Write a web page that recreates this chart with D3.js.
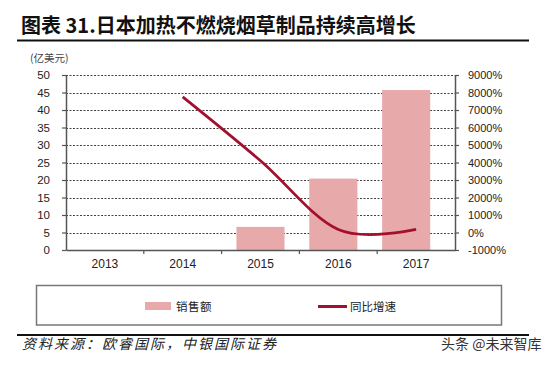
<!DOCTYPE html>
<html>
<head>
<meta charset="utf-8">
<script src="https://cdn.jsdelivr.net/npm/d3@7"></script>
<style>
  body { margin: 0; background: #fff; }
  svg { display: block; font-family: "Liberation Sans", Arial, sans-serif; }
  .cjk { font-family: "Noto Sans CJK SC", sans-serif; }
</style>
</head>
<body>
<script>
// chart data
var years = ["2013", "2014", "2015", "2016", "2017"];
var sales = [null, null, 6.6, 20.4, 45.7];          // 亿美元
var growth = [null, 7750, 4100, 170, 180];           // 同比增速 %
var leftTicks = [0, 5, 10, 15, 20, 25, 30, 35, 40, 45, 50];
var rightTicks = [-1000, 0, 1000, 2000, 3000, 4000, 5000, 6000, 7000, 8000, 9000];

var width = 554, height = 368;
var plot = {left: 66, right: 455, top: 75, bottom: 250};

var svg = d3.select("body")
  .append("svg")
  .attr("width", width)
  .attr("height", height);

// title and rules
svg.append("text")
  .attr("class", "cjk")
  .attr("x", 21)
  .attr("y", 33)
  .style("font-size", "20px")
  .style("font-weight", "bold")
  .style("fill", "#111")
  .text("图表 31.日本加热不燃烧烟草制品持续高增长");

svg.append("line")
  .attr("x1", 17).attr("x2", 529)
  .attr("y1", 40.5).attr("y2", 40.5)
  .style("stroke", "#111").style("stroke-width", 2);

svg.append("text")
  .attr("class", "cjk")
  .attr("x", 30)
  .attr("y", 62)
  .style("font-size", "10.5px")
  .style("fill", "#444")
  .text("(亿美元)");

// scales
var x = d3.scaleBand()
  .domain(years)
  .range([plot.left, plot.right])
  .padding(0.34);

var xStep = d3.scaleBand().domain(years).range([plot.left, plot.right]);

var yLeft = d3.scaleLinear()
  .domain([0, 50])
  .range([plot.bottom, plot.top]);

var yRight = d3.scaleLinear()
  .domain([-1000, 9000])
  .range([plot.bottom, plot.top]);

// dashed gridlines
svg.append("g")
  .selectAll("line")
  .data(leftTicks.filter(function(d) { return d > 0; }))
  .enter()
  .append("line")
  .attr("x1", plot.left)
  .attr("x2", plot.right)
  .attr("y1", function(d) { return Math.round(yLeft(d)) + 0.5; })
  .attr("y2", function(d) { return Math.round(yLeft(d)) + 0.5; })
  .style("stroke", "#444")
  .style("stroke-width", 1)
  .style("stroke-dasharray", "2,1.5");

// bars
svg.append("g")
  .selectAll("rect")
  .data(years.map(function(y, i) { return {year: y, value: sales[i]}; })
    .filter(function(d) { return d.value != null; }))
  .enter()
  .append("rect")
  .attr("x", function(d) { return x(d.year); })
  .attr("y", function(d) { return yLeft(d.value); })
  .attr("width", x.bandwidth())
  .attr("height", function(d) { return yLeft(0) - yLeft(d.value); })
  .style("fill", "#E8A9AB");

// axes
var leftAxis = d3.axisLeft(yLeft).tickValues(leftTicks).tickSizeInner(4).tickSizeOuter(0).tickPadding(12);
var gl = svg.append("g")
  .attr("transform", "translate(" + plot.left + ",0)")
  .call(leftAxis);

var rightAxis = d3.axisRight(yRight).tickValues(rightTicks).tickSizeInner(4).tickSizeOuter(0).tickPadding(9)
  .tickFormat(function(d) { return d + "%"; });
var gr = svg.append("g")
  .attr("transform", "translate(" + plot.right + ",0)")
  .call(rightAxis);

var bottomAxis = d3.axisBottom(xStep).tickSize(0).tickPadding(9);
var gb = svg.append("g")
  .attr("transform", "translate(0," + plot.bottom + ")")
  .call(bottomAxis);

// category boundary ticks
svg.append("g")
  .selectAll("line")
  .data(years.slice(1))
  .enter()
  .append("line")
  .attr("x1", function(d) { return xStep(d); })
  .attr("x2", function(d) { return xStep(d); })
  .attr("y1", plot.bottom)
  .attr("y2", plot.bottom + 4)
  .style("stroke", "#555")
  .style("stroke-width", 1.2);

[gl, gr, gb].forEach(function(g) {
  g.select(".domain").style("stroke", "#555").style("stroke-width", 1.5);
  g.selectAll(".tick line").style("stroke", "#555").style("stroke-width", 1.2);
  g.selectAll("text").style("fill", "#222").style("font-family", "'Liberation Sans', Arial, sans-serif");
});
gl.selectAll("text").style("font-size", "11.5px");
gr.selectAll("text").style("font-size", "11px");
gb.selectAll("text").style("font-size", "12px");

// growth line
var line = d3.line()
  .defined(function(d) { return d.value != null; })
  .x(function(d) { return xStep(d.year) + xStep.bandwidth() / 2; })
  .y(function(d) { return yRight(d.value); })
  .curve(d3.curveCardinal.tension(0));

svg.append("path")
  .datum(years.map(function(y, i) { return {year: y, value: growth[i]}; })
    .filter(function(d) { return d.value != null; }))
  .attr("d", line)
  .style("fill", "none")
  .style("stroke", "#A3102E")
  .style("stroke-width", 2.8);

// legend
svg.append("rect")
  .attr("x", 36.5).attr("y", 285.5)
  .attr("width", 465).attr("height", 39.5)
  .style("fill", "none")
  .style("stroke", "#777")
  .style("stroke-width", 1.5);

svg.append("rect")
  .attr("x", 145).attr("y", 302)
  .attr("width", 26).attr("height", 8)
  .style("fill", "#E8A9AB");

svg.append("text")
  .attr("class", "cjk")
  .attr("x", 176).attr("y", 310.5)
  .style("font-size", "11.5px")
  .style("letter-spacing", "0.5px")
  .style("fill", "#222")
  .text("销售额");

svg.append("line")
  .attr("x1", 318).attr("x2", 347)
  .attr("y1", 306.5).attr("y2", 306.5)
  .style("stroke", "#A3102E")
  .style("stroke-width", 3);

svg.append("text")
  .attr("class", "cjk")
  .attr("x", 350).attr("y", 310.5)
  .style("font-size", "11.5px")
  .style("fill", "#222")
  .text("同比增速");

// footer
svg.append("line")
  .attr("x1", 17).attr("x2", 529)
  .attr("y1", 335).attr("y2", 335)
  .style("stroke", "#111").style("stroke-width", 2);

svg.append("text")
  .attr("class", "cjk")
  .attr("x", 22).attr("y", 349)
  .style("font-size", "14px")
  .style("font-style", "italic")
  .style("letter-spacing", "2px")
  .style("fill", "#222")
  .text("资料来源：欧睿国际，中银国际证券");

svg.append("text")
  .attr("class", "cjk")
  .attr("x", 441).attr("y", 349)
  .style("font-size", "14px")
  .style("fill", "#333")
  .text("头条 @未来智库");
</script>
</body>
</html>
